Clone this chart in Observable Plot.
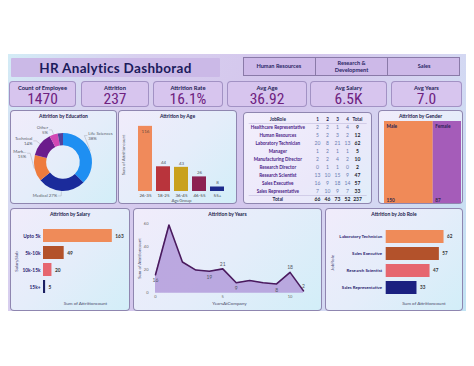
<!DOCTYPE html>
<html>
<head>
<meta charset="utf-8">
<script src="https://cdn.jsdelivr.net/npm/d3@7"></script>
<script src="https://cdn.jsdelivr.net/npm/@observablehq/plot@0.6"></script>
<style>
html,body{margin:0;padding:0;background:#fff;}
body{width:474px;height:366px;position:relative;overflow:hidden;font-family:Lato,"Open Sans",sans-serif;}
#dash{position:absolute;left:8px;top:54px;width:458px;height:257px;
  background:linear-gradient(120deg,#d3ecf6 0%,#d8cfef 22%,#d3c5ec 50%,#d6d6f2 72%,#c2e4f4 100%);}
.panel{position:absolute;border-radius:4px;box-shadow:inset 0 0 0 1px #8f86b0;
  background:linear-gradient(135deg,#f1ecfb 0%,#e5edfa 50%,#d2eef8 100%);}
.panel svg{position:absolute;left:0;top:0;}
.ptitle{position:absolute;left:0;top:3px;width:100%;text-align:center;font-size:5px;line-height:6px;font-weight:700;color:#1b1b4b;}
.kpi{position:absolute;top:27px;height:26px;background:#d7c5ee;border-radius:4px;box-shadow:inset 0 0 0 1px #a292c4;}
.kpi .lab{position:absolute;top:3px;left:0;width:100%;text-align:center;font-size:5.8px;line-height:7px;font-weight:700;color:#1e1c56;}
.kpi .val{position:absolute;top:10px;left:0;width:100%;text-align:center;font-family:"Liberation Sans Narrow","Roboto Condensed",Roboto,sans-serif;font-size:15.5px;line-height:16px;color:#6e2180;}
#titlebox{position:absolute;left:3px;top:4px;width:209px;height:19px;background:#cbb9e7;border-radius:1px;
  text-align:center;font-size:13.5px;line-height:20px;font-weight:700;color:#1c1b5c;letter-spacing:0.3px;}
#dept{position:absolute;left:235px;top:3px;width:217px;height:19px;display:flex;background:#cdb9e8;box-shadow:inset 0 0 0 1px #8a7aa8;}
#dept > div{flex:1;display:flex;align-items:center;justify-content:center;border-left:1px solid #8a7aa8;}
#dept > div:first-child{border-left:none;}
#dept span{display:block;max-width:48px;text-align:center;font-size:5.6px;line-height:6.5px;font-weight:700;color:#2a2766;}
</style>
</head>
<body>
<div id="dash"></div>
<script>
// ---------------- DATA ----------------
const kpiLabels = ["Count of Employee","Attrition","Attrition Rate","Avg Age","Avg Salary","Avg Years"];
const kpiValues = ["1470","237","16.1%","36.92","6.5K","7.0"];
const deptNames = ["Human Resources","Research & Development","Sales"];

const eduNames  = ["Life Sciences","Medical","Marketing","Technical Degree","Other","Human Resources"];
const eduShown  = ["Life Sciences","Medical","Mark...","Technical","Other",""];
const eduValues = [89,63,35,32,11,7];
const eduColors = ["#1e8ff2","#1b2b9b","#ee7b3d","#6b1c8c","#d247b4","#55409a"];

const ageGroups = ["26-35","18-25","36-45","46-55","55+"];
const ageValues = [116,44,43,26,8];
const ageColors = ["#f08a5b","#b9343c","#c9a11d","#8c2252","#1d2a8c"];

const tableRoles = ["Healthcare Representative","Human Resources","Laboratory Technician","Manager",
  "Manufacturing Director","Research Director","Research Scientist","Sales Executive","Sales Representative"];
const tableCols = ["1","2","3","4"];
const tableValues = [[2,2,1,4],[5,2,3,2],[20,8,21,13],[1,2,1,1],[2,2,4,2],[0,1,1,0],[13,10,15,9],[16,9,18,14],[7,10,9,7]];

const genders = ["Male","Female"];
const genderValues = [150,87];
const genderColors = ["#f08a58","#a55cb9"];

const salarySlabs = ["Upto 5k","5k-10k","10k-15k","15k+"];
const salaryValues = [163,49,20,5];
const salaryColors = ["#ef8b59","#b3522b","#e6666f","#1b1f62"];

const yearsAtCompany = [0,1,2,3,4,5,6,7,8,9,10,11];
const yearsAttrition = [16,59,27,20,19,21,9,11,9,8,18,2];
const yearsLabelAbove = [5,10,11];
const yearsLabelBelow = [0,4,6,9];

const jobRoles = ["Laboratory Technician","Sales Executive","Research Scientist","Sales Representative"];
const jobValues = [62,57,47,33];
const jobColors = ["#ef8b59","#b3522b","#e6666f","#1b2080"];

// ---------------- LAYOUT HELPERS ----------------
const dash = document.getElementById("dash");
function div(parent, cls, css, text) {
  const d = document.createElement("div");
  if (cls) d.className = cls;
  if (css) Object.assign(d.style, css);
  if (text != null) d.textContent = text;
  parent.appendChild(d);
  return d;
}
function panel(x, y, w, h, title, plot) {
  const p = div(dash, "panel", {left: x + "px", top: y + "px", width: w + "px", height: h + "px"});
  p.appendChild(plot);
  div(p, "ptitle", null, title);
  return p;
}
const base = {background: "transparent", fontFamily: "Lato, sans-serif", fontSize: "5px", overflow: "visible", color: "#1d1b4e"};
const gray = "#555a66";

// header
div(dash, null, null, "HR Analytics Dashborad").id = "titlebox";
const dept = div(dash, null, null); dept.id = "dept";
deptNames.forEach(n => {
  const c = div(dept, null, null);
  const s = document.createElement("span"); s.textContent = n; c.appendChild(s);
});

const kpiX = [1, 73, 145, 219, 302, 383];
const kpiW = [67, 68, 70, 80, 77, 71];
kpiLabels.forEach((l, i) => {
  const k = div(dash, "kpi", {left: kpiX[i] + "px", width: kpiW[i] + "px"});
  div(k, "lab", null, l);
  div(k, "val", null, kpiValues[i]);
});

// ---------------- EDUCATION DONUT ----------------
const eduData = eduNames.map((n, i) => ({name: n, shown: eduShown[i], value: eduValues[i], color: eduColors[i]}));
function donutMark(index, scales, values, dims) {
  const W = dims.width, H = dims.height;
  const fw = W - dims.marginLeft - dims.marginRight, fh = H - dims.marginTop - dims.marginBottom;
  const cx = dims.marginLeft + fw / 2, cy = dims.marginTop + fh / 2;
  const r = Math.min(fw, fh) / 2, ri = r * 0.58;
  const total = d3.sum(eduData, d => d.value);
  const arcs = d3.pie().sort(null).value(d => d.value)(eduData);
  const arc = d3.arc().innerRadius(ri).outerRadius(r);
  const g = d3.create("svg:g").attr("transform", `translate(${cx},${cy})`);
  g.selectAll("path").data(arcs).join("path").attr("d", arc).attr("fill", d => d.data.color);
  const fs = 4.3;
  arcs.filter(d => d.data.shown).forEach(d => {
    const mid = (d.startAngle + d.endAngle) / 2;
    const pct = Math.round(d.data.value / total * 100) + "%";
    const oneLine = Math.cos(mid) < -0.95;
    const label = oneLine ? d.data.shown + " " + pct : d.data.shown;
    const tw = label.length * fs * 0.47;
    let a = mid;
    const side = Math.sin(mid) >= 0 ? 1 : -1;
    for (let k = 0; k < 60; k++) {
      const x = Math.sin(a) * (r + 5) + side * 4;
      if (side > 0 ? cx + x + tw <= W - 2 : cx + x - tw >= 2) break;
      a += side > 0 ? -0.02 : 0.02;
    }
    const p1 = [Math.sin(mid) * (r + 0.5), -Math.cos(mid) * (r + 0.5)];
    const p2 = [Math.sin(a) * (r + 5), -Math.cos(a) * (r + 5)];
    const p3 = [p2[0] + side * 3, p2[1]];
    g.append("polyline").attr("points", [p1, p2, p3].map(p => p.join(",")).join(" "))
      .attr("fill", "none").attr("stroke", "#9a9aa6").attr("stroke-width", 0.4);
    const tx = p3[0] + side * 1;
    const t = g.append("text").attr("x", tx).attr("y", p3[1]).attr("text-anchor", side > 0 ? "start" : "end")
      .attr("font-size", fs).attr("fill", gray);
    if (oneLine) t.attr("dy", "0.35em").text(label);
    else {
      t.append("tspan").attr("x", tx).attr("dy", "-0.15em").text(label);
      t.append("tspan").attr("x", tx).attr("dy", "1.15em").text(pct);
    }
  });
  return g.node();
}
const eduPlot = Plot.plot({
  width: 107, height: 94, marginLeft: 24, marginRight: 25, marginTop: 23, marginBottom: 13,
  style: base, marks: [donutMark]
});
panel(2, 56, 107, 94, "Attrition by Education", eduPlot);

// ---------------- AGE ----------------
const ageData = ageGroups.map((g, i) => ({g, v: ageValues[i], c: ageColors[i]}));
const agePlot = Plot.plot({
  width: 119, height: 94, marginLeft: 15, marginRight: 8, marginTop: 8, marginBottom: 13,
  x: {domain: ageGroups, padding: 0.2, axis: null},
  y: {domain: [0, 130], axis: null},
  style: base,
  marks: [
    Plot.barY(ageData, {x: "g", y: "v", fill: "c"}),
    Plot.text(ageData.filter(d => d.v >= 100), {x: "g", y: "v", text: "v", dy: 5, fontSize: 4.5, fill: "#6a4a40"}),
    Plot.text(ageData.filter(d => d.v < 100), {x: "g", y: "v", text: "v", dy: -4, fontSize: 4.5, fill: gray}),
    Plot.text(ageData, {x: "g", text: "g", frameAnchor: "bottom", dy: 5, fontSize: 4.5, fill: "#444"}),
    Plot.text(["AgeGroup"], {frameAnchor: "bottom", dy: 10.5, fontSize: 4.5, fill: gray}),
    Plot.text(["Sum of Attritioncount"], {frameAnchor: "left", textAnchor: "middle", rotate: -90, dx: -10, fontSize: 4.3, fill: gray})
  ]
});
panel(110, 56, 119, 94, "Attrition by Age", agePlot);

// ---------------- TABLE ----------------
const rowKeys = ["JobRole", ...tableRoles, "Total"];
const colKeys = [...tableCols, "Total"];
const cells = [];
tableRoles.forEach((r, i) => tableCols.forEach((c, j) => cells.push({r, c, v: tableValues[i][j]})));
const rowTotals = tableRoles.map((r, i) => ({r, c: "Total", v: d3.sum(tableValues[i])}));
const colTotals = tableCols.map((c, j) => ({r: "Total", c, v: d3.sum(tableValues, row => row[j])}));
const grand = {r: "Total", c: "Total", v: d3.sum(rowTotals, d => d.v)};
const tablePlot = Plot.plot({
  width: 129, height: 92, marginLeft: 73.7, marginRight: 15.3, marginTop: 7, marginBottom: 4.7,
  x: {domain: colKeys, padding: 0, axis: null},
  y: {domain: rowKeys, padding: 0, axis: null},
  style: base,
  marks: [
    Plot.ruleY(["Healthcare Representative", "Total"], {y: d => d, dy: -4, stroke: "#b9b0d6", strokeWidth: 0.5, insetLeft: -68, insetRight: -10}),
    Plot.text(colKeys, {x: d => d, y: () => "JobRole", fontWeight: "bold", fill: "#1f1f4f", fontSize: 4.6}),
    Plot.text(["JobRole"], {y: d => d, frameAnchor: "left", textAnchor: "middle", dx: -39.4, fontWeight: "bold", fill: "#1f1f4f", fontSize: 4.6}),
    Plot.text(tableRoles, {y: d => d, frameAnchor: "left", textAnchor: "middle", dx: -39.4, fontWeight: "bold", fill: "#4b2288", fontSize: 4.6}),
    Plot.text(["Total"], {y: d => d, frameAnchor: "left", textAnchor: "middle", dx: -39.4, fontWeight: "bold", fill: "#1f1f4f", fontSize: 4.8}),
    Plot.text(cells, {x: "c", y: "r", text: "v", fill: "#6b7db2", fontSize: 5}),
    Plot.text([...rowTotals, ...colTotals, grand], {x: "c", y: "r", text: "v", fill: "#1f1f2f", fontWeight: "bold", fontSize: 5})
  ]
});
const tp = panel(235, 58, 129, 92, "", tablePlot);
tp.style.background = "linear-gradient(135deg,#f3effc 0%,#ebe8fa 60%,#e0eefa 100%)";

// ---------------- GENDER ----------------
const genderData = genders.map((g, i) => ({g, v: genderValues[i], c: genderColors[i]}));
const genderPlot = Plot.plot({
  width: 85, height: 94, marginLeft: 6, marginRight: 2, marginTop: 11, marginBottom: 1,
  x: {domain: [0, d3.sum(genderValues)], axis: null},
  y: {domain: [0, 1], axis: null},
  style: base,
  marks: [
    Plot.rectX(genderData, {x: "v", y1: 0, y2: 1, fill: "c"}),
    Plot.text(genderData, Plot.stackX1({x: "v", y: 1, text: "g", textAnchor: "start", dx: 2, dy: 5, fontWeight: "bold", fill: "#2a1f55", fontSize: 4.8})),
    Plot.text(genderData, Plot.stackX1({x: "v", y: 0, text: "v", textAnchor: "start", dx: 2, dy: -3.5, fontWeight: "bold", fill: "#3a2a4a", fontSize: 4.8}))
  ]
});
panel(370, 56, 85, 94, "Attrition by Gender", genderPlot);

// ---------------- SALARY ----------------
const salaryData = salarySlabs.map((s, i) => ({s, v: salaryValues[i], c: salaryColors[i]}));
const salaryPlot = Plot.plot({
  width: 120, height: 103, marginLeft: 33, marginRight: 11, marginTop: 16, marginBottom: 13,
  x: {domain: [0, 180], axis: null},
  y: {domain: salarySlabs, padding: 0.23, axis: null},
  style: base,
  marks: [
    Plot.barX(salaryData, {y: "s", x: "v", fill: "c"}),
    Plot.text(salaryData, {y: "s", x: "v", text: "v", textAnchor: "start", dx: 3, fontWeight: "bold", fill: "#333", fontSize: 4.8}),
    Plot.text(salaryData, {y: "s", text: "s", frameAnchor: "left", textAnchor: "end", dx: -3, fontWeight: "bold", fill: "#2a2470", fontSize: 4.8}),
    Plot.text(["SalarySlab"], {frameAnchor: "left", textAnchor: "middle", rotate: -90, dx: -27, fontSize: 4.6, fill: "#4a4a78"}),
    Plot.text(["Sum of Attritioncount"], {frameAnchor: "bottom", dy: 6, dx: 4, fontSize: 4.6, fill: "#4a4a6a"})
  ]
});
panel(2, 154, 120, 103, "Attrition by Salary", salaryPlot);

// ---------------- YEARS ----------------
const yearsData = yearsAtCompany.map((y, i) => ({year: y, v: yearsAttrition[i]}));
const yearsPlot = Plot.plot({
  width: 189, height: 103, marginLeft: 22, marginRight: 19, marginTop: 15.3, marginBottom: 18.3,
  x: {domain: [0, 11]},
  y: {domain: [0, 60]},
  style: base,
  marks: [
    Plot.areaY(yearsData, {x: "year", y: "v", fill: "#b39bdb", fillOpacity: 0.85}),
    Plot.lineY(yearsData, {x: "year", y: "v", stroke: "#4a1a5e", strokeWidth: 1.6}),
    Plot.axisX({ticks: [0, 5, 10], tickSize: 0, tickPadding: 2, fontSize: 4, color: "#666", label: null}),
    Plot.axisY({ticks: [0, 20, 40, 60], tickSize: 0, tickPadding: 7, fontSize: 4, color: "#666", label: null}),
    Plot.text(yearsData.filter(d => yearsLabelAbove.includes(d.year)), {x: "year", y: "v", text: "v", dy: -4.5, fontSize: 5, fill: gray}),
    Plot.text(yearsData.filter(d => yearsLabelBelow.includes(d.year)), {x: "year", y: "v", text: "v", dy: 6, fontSize: 5, fill: gray}),
    Plot.text(["YearsAtCompany"], {frameAnchor: "bottom", dy: 11.5, fontSize: 4.6, fill: "#4a4a6a"}),
    Plot.text(["Sum of Attritioncount"], {frameAnchor: "left", textAnchor: "middle", rotate: -90, dx: -16, fontSize: 4.3, fill: "#4a4a6a"})
  ]
});
panel(125, 154, 189, 103, "Attrition by Years", yearsPlot);

// ---------------- JOB ROLE ----------------
const jobData = jobRoles.map((r, i) => ({r, v: jobValues[i], c: jobColors[i]}));
const jobPlot = Plot.plot({
  width: 138, height: 103, marginLeft: 60.7, marginRight: 12, marginTop: 17.5, marginBottom: 12,
  x: {domain: [0, 70], axis: null},
  y: {domain: jobRoles, padding: 0.26, axis: null},
  style: base,
  marks: [
    Plot.barX(jobData, {y: "r", x: "v", fill: "c"}),
    Plot.text(jobData, {y: "r", x: "v", text: "v", textAnchor: "start", dx: 3, fontWeight: "bold", fill: "#333", fontSize: 4.6}),
    Plot.text(jobData, {y: "r", text: "r", frameAnchor: "left", textAnchor: "end", dx: -4, fontWeight: "bold", fill: "#2a2470", fontSize: 4.4}),
    Plot.text(["JobRole"], {frameAnchor: "left", textAnchor: "middle", rotate: -90, dx: -54, fontSize: 4.6, fill: "#4a4a78"}),
    Plot.text(["Sum of Attritioncount"], {frameAnchor: "bottom", dy: 5, dx: 5, fontSize: 4.6, fill: "#4a4a6a"})
  ]
});
panel(317, 154, 138, 103, "Attrition by Job Role", jobPlot);
</script>
</body>
</html>
